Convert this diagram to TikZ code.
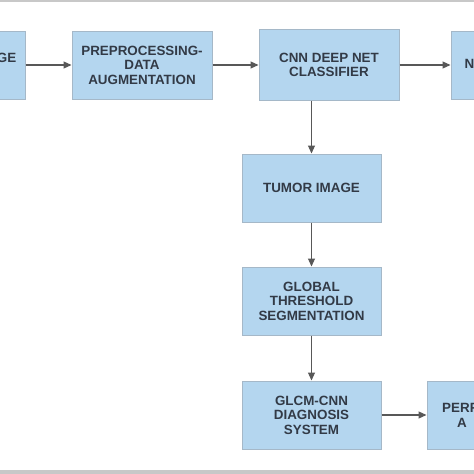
\documentclass[tikz,border=0pt]{standalone}
\usepackage{fontspec}
\setmainfont{Liberation Sans}
\usepackage{xcolor}
\usetikzlibrary{arrows.meta}

\definecolor{boxfill}{RGB}{180,214,239}
\definecolor{boxline}{RGB}{165,184,200}
\definecolor{boxtext}{RGB}{50,58,70}
\definecolor{arrline}{RGB}{88,88,88}
\definecolor{bandgray}{RGB}{200,200,200}

\tikzset{
    block/.style={draw=boxline,line width=1pt,fill=boxfill,text=boxtext,
        minimum width=140pt,minimum height=68pt,inner sep=2pt,align=center,
        font=\fontsize{13.4}{14.5}\selectfont\bfseries},
    frag/.style={text=boxtext,inner sep=0pt,font=\fontsize{13.4}{14.5}\selectfont\bfseries},
    arr/.style={draw=arrline,line width=1.1pt,-{Triangle[length=8pt,width=7pt]}}
}

\begin{document}
\begin{tikzpicture}[x=1pt,y=1pt]
            \useasboundingbox (0,0) rectangle (474,-474);
            \clip (0,0) rectangle (474,-474);
            \fill[white] (0,0) rectangle (474,-474);
            \fill[bandgray] (0,0) rectangle (474,-2);
            \fill[bandgray] (0,-470) rectangle (474,-474);

            % top row
            \node[block] (input) at (-45,-65) {};
            \node[frag,anchor=east] (inputlbl) at (16.5,-57.5) {GE};
            \node[block] (prep) at (142,-65) {PREPROCESSING-\\DATA\\AUGMENTATION};
            \node[block,minimum height=71pt] (cnn) at (329,-65) {CNN DEEP NET\\CLASSIFIER};
            \node[block] (result) at (521,-65) {};
            \node[frag,anchor=west] (resultlbl) at (464.5,-64) {N};

            % column below the classifier
            \node[block,minimum width=139pt] (tumor) at (311.5,-188) {TUMOR IMAGE};
            \node[block,minimum width=139pt] (thresh) at (311.5,-301) {GLOBAL\\THRESHOLD\\SEGMENTATION};
            \node[block,minimum width=139pt] (glcm) at (311.5,-415) {GLCM-CNN\\DIAGNOSIS\\SYSTEM};
            \node[block] (perf) at (497,-415) {};
            \node[frag,anchor=west] (perflbl) at (442,-407.5) {PERF};
            \node[frag,anchor=west] (perflblb) at (457,-422.5) {A};

            \draw[arr] (input) -- (prep);
            \draw[arr] (prep) -- (cnn);
            \draw[arr] (cnn) -- (result);
            \draw[arr] (cnn.south -| tumor.north) -- (tumor.north);
            \draw[arr] (tumor) -- (thresh);
            \draw[arr] (thresh) -- (glcm);
            \draw[arr] (glcm) -- (perf);
\end{tikzpicture}
\end{document}
